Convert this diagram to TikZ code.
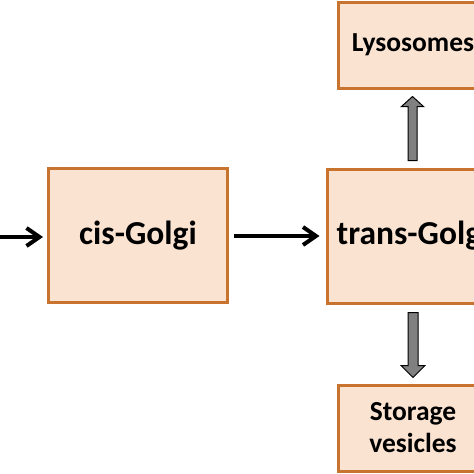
\documentclass[tikz,border=0pt]{standalone}
\usepackage{fontspec}
\setmainfont{Carlito}
\usetikzlibrary{arrows.meta,calc}
\definecolor{boxfill}{HTML}{FBE3D2}
\definecolor{boxline}{HTML}{C8732E}
\definecolor{arrgray}{HTML}{808080}
\begin{document}
\begin{tikzpicture}[x=1pt,y=-1pt,
  golgibox/.style={draw=boxline,fill=boxfill,line width=3pt,inner sep=0pt,
    minimum width=179pt,minimum height=134pt,font=\fontsize{33.5}{36}\selectfont\bfseries},
  smallbox/.style={draw=boxline,fill=boxfill,line width=3pt,inner sep=0pt,
    minimum width=149pt,minimum height=86pt,align=center,
    font=\fontsize{27.5}{32}\selectfont\bfseries},
  flowarrow/.style={line width=4pt,-{Straight Barb[length=13pt,width=18pt,line width=4pt]}},
  blockarrow/.style={draw=black,fill=arrgray,line width=1pt,line join=miter}
]
\useasboundingbox (0,0) rectangle (474,474);
\node[golgibox] (cis) at (138,235.5) {cis-Golgi};
\node[golgibox,minimum width=172pt] (trans) at (413,236) {trans-Golgi};
\node[smallbox] (lys) at (413,45) {Lysosomes};
\node[smallbox] (sto) at (413,428) {Storage\\vesicles};
\coordinate (src) at (0,237);
\draw[flowarrow] (src) -- ($(cis.west)+(-4,1.5)$);
\draw[flowarrow] ($(cis.east)+(5,0.5)$) -- ($(trans.west)+(-6,0)$);
% up block arrow
\coordinate (ub) at ($(trans.north)+(-0.5,-7)$);
\coordinate (ut) at ($(lys.south)+(-0.5,7)$);
\draw[blockarrow] ($(ub)+(-4.5,0)$) -- ($(ut)+(-4.5,10)$) -- ($(ut)+(-11,10)$) -- (ut)
  -- ($(ut)+(11,10)$) -- ($(ut)+(4.5,10)$) -- ($(ub)+(4.5,0)$) -- cycle;
% down block arrow
\coordinate (db) at ($(trans.south)+(0,8)$);
\coordinate (dt) at ($(sto.north)+(0,-6)$);
\draw[blockarrow] ($(db)+(-5,0)$) -- ($(dt)+(-5,-12)$) -- ($(dt)+(-12,-12)$) -- (dt)
  -- ($(dt)+(12,-12)$) -- ($(dt)+(5,-12)$) -- ($(db)+(5,0)$) -- cycle;
\end{tikzpicture}
\end{document}
